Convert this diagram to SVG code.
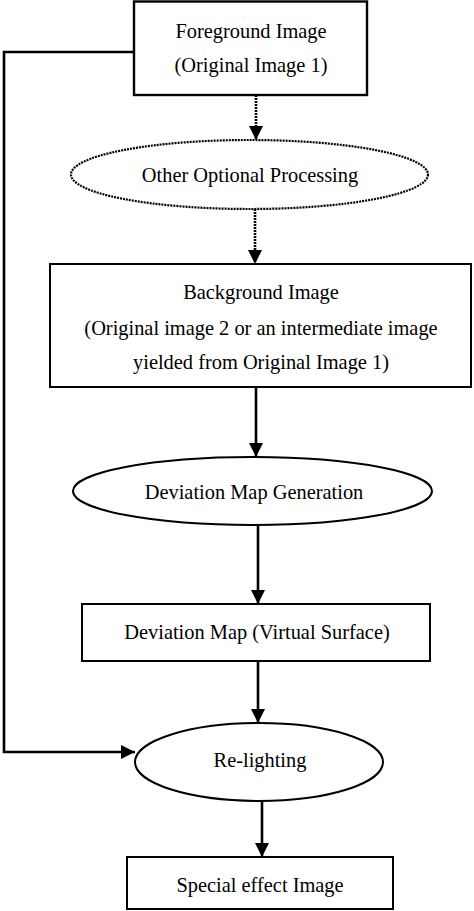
<svg xmlns="http://www.w3.org/2000/svg" width="474" height="911" viewBox="0 0 474 911">
<defs>
<marker id="ah" markerUnits="userSpaceOnUse" markerWidth="14" markerHeight="14" refX="14" refY="7" orient="auto">
<path d="M0,0 L14,7 L0,14 Z" fill="#000"/>
</marker>
<style>
.box{fill:#fff;stroke:#000;stroke-width:2}
.dot{fill:#fff;stroke:#000;stroke-width:2.2;stroke-dasharray:2 1}
.t{font-family:"Liberation Serif","Times New Roman",serif;font-size:20.4px;fill:#000;text-anchor:middle}
.c{fill:none;stroke:#000;stroke-width:2.6}
.cd{fill:none;stroke:#000;stroke-width:2.6;stroke-dasharray:2 1}
</style>
</defs>
<rect width="474" height="911" fill="#fff"/>
<g id="connectors">
<path class="c" d="M134,52 H4 V752 H135" marker-end="url(#ah)"/>
<path class="cd" d="M256,95 V140" marker-end="url(#ah)"/>
<path class="cd" d="M255,209 V264" marker-end="url(#ah)"/>
<path class="c" d="M256,387 V457" marker-end="url(#ah)"/>
<path class="c" d="M258,525 V604" marker-end="url(#ah)"/>
<path class="c" d="M258,662 V723" marker-end="url(#ah)"/>
<path class="c" d="M262,801 V857" marker-end="url(#ah)"/>
</g>
<g id="foreground">
<rect class="box" x="134" y="1.5" width="233" height="93.5" style="stroke-width:2.4"/>
<text class="t" x="251" y="38">Foreground Image</text>
<text class="t" x="251" y="72">(Original Image 1)</text>
</g>
<g id="optional">
<ellipse class="dot" cx="249.5" cy="174.5" rx="178.5" ry="34.5"/>
<text class="t" x="250" y="182">Other Optional Processing</text>
</g>
<g id="background">
<rect class="box" x="50" y="264" width="421" height="123"/>
<text class="t" x="261" y="299">Background Image</text>
<text class="t" x="261" y="335">(Original image 2 or an intermediate image</text>
<text class="t" x="261" y="369">yielded from Original Image 1)</text>
</g>
<g id="devgen">
<ellipse class="box" cx="252.5" cy="491" rx="179.5" ry="34"/>
<text class="t" x="254" y="499">Deviation Map Generation</text>
</g>
<g id="devmap">
<rect class="box" x="82" y="604" width="348" height="57"/>
<text class="t" x="257" y="639">Deviation Map (Virtual Surface)</text>
</g>
<g id="relight">
<ellipse class="box" cx="259" cy="762" rx="124" ry="39"/>
<text class="t" x="260" y="767">Re-lighting</text>
</g>
<g id="special">
<rect class="box" x="127" y="857" width="266" height="52"/>
<text class="t" x="260" y="892">Special effect Image</text>
</g>
</svg>
